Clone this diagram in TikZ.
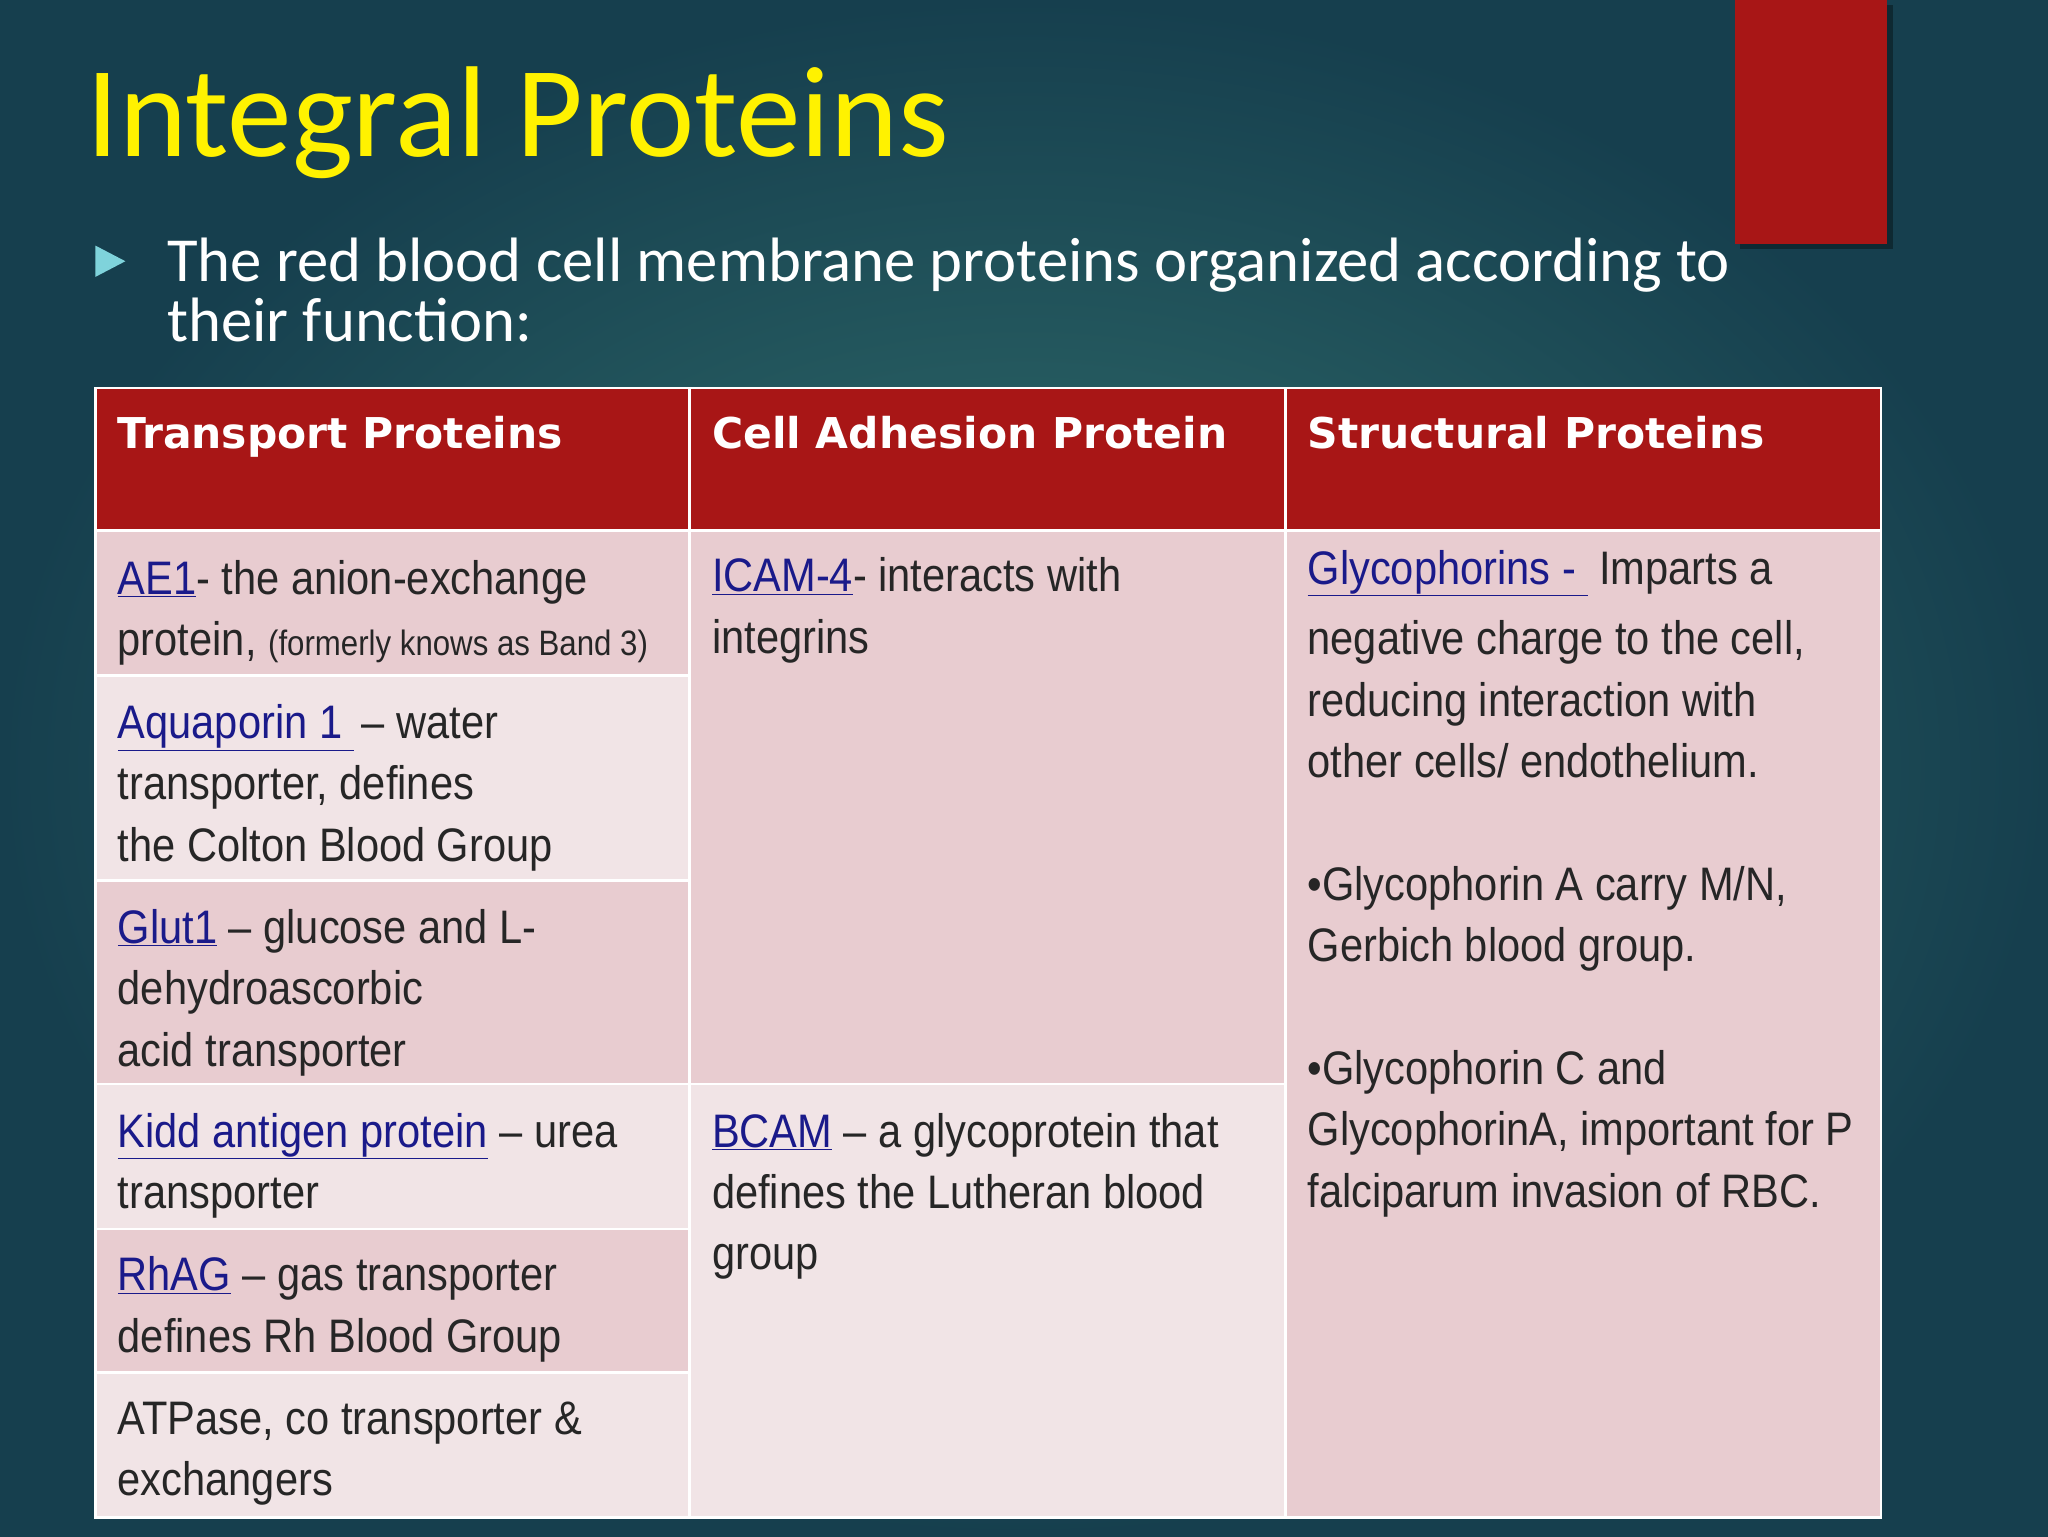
\documentclass[tikz,border=0pt]{standalone}
\usepackage{fontspec}
\setmainfont{Liberation Sans}[FakeStretch=0.885]
\newfontfamily\ttlfont{Carlito}
\newfontfamily\hdfont{DejaVu Sans}
\definecolor{bgdark}{HTML}{163F4E}
\definecolor{bglight}{HTML}{33736F}
\definecolor{hdred}{HTML}{A81616}
\definecolor{cdark}{HTML}{E8CCD0}
\definecolor{clight}{HTML}{F1E4E6}
\definecolor{lnk}{HTML}{1A1A8A}
\definecolor{tri}{HTML}{7FD3DB}
\newcommand{\lk}[1]{\textcolor{lnk}{\underline{#1}}}
\newcommand{\st}{\rule{0pt}{28pt}}
\begin{document}
\begin{tikzpicture}[x=1pt,y=-1pt,
  hd/.style={anchor=base west,text=white,font=\hdfont\bfseries\fontsize{32.5}{36}\selectfont,inner sep=0},
  bd/.style={anchor=north west,align=left,inner sep=0,text=black!85,font=\fontsize{36}{47}\selectfont},
  cell/.style={draw=white,line width=2pt}]
\shade[inner color=bglight,outer color=bgdark] (0,0) rectangle (1568,1176);
\useasboundingbox (0,0) rectangle (1568,1176);
\fill[black,opacity=0.35] (1332,4) rectangle (1449,191);
\fill[hdred] (1328,0) rectangle (1445,187);
\node[anchor=base west,inner sep=0,text=yellow,font=\ttlfont\fontsize{99}{100}\selectfont] (title) at (66,120) {Integral Proteins};
\fill[tri] (73,188) -- (96,200) -- (73,212) -- cycle;
\node[anchor=north west,inner sep=0,align=left,text=white,font=\ttlfont\fontsize{48}{46}\selectfont] (sub) at (128,180) {\rule{0pt}{35pt}The red blood cell membrane proteins organized according to\\their function:};
% header
\fill[hdred] (73,297) rectangle (1440,406);
\draw[cell] (73,297) rectangle (528,406);
\draw[cell] (528,297) rectangle (984,406);
\draw[cell] (984,297) rectangle (1440,406);
\node[hd] (h1) at (90,343) {Transport Proteins};
\node[hd] (h2) at (545,343) {Cell Adhesion Protein};
\node[hd] (h3) at (1001,343) {Structural Proteins};
% cells
\fill[cdark] (73,406) rectangle (528,517);
\fill[clight] (73,517) rectangle (528,674);
\fill[cdark] (73,674) rectangle (528,830);
\fill[clight] (73,830) rectangle (528,941);
\fill[cdark] (73,941) rectangle (528,1051);
\fill[clight] (73,1051) rectangle (528,1162);
\fill[cdark] (528,406) rectangle (984,830);
\fill[clight] (528,830) rectangle (984,1162);
\fill[cdark] (984,406) rectangle (1440,1162);
\foreach \a/\b in {406/517,517/674,674/830,830/941,941/1051,1051/1162}{\draw[cell] (73,\a) rectangle (528,\b);}
\draw[cell] (528,406) rectangle (984,830);
\draw[cell] (528,830) rectangle (984,1162);
\draw[cell] (984,406) rectangle (1440,1162);
\node[bd] (t1) at (90,427) {\st\lk{AE1}- the anion-exchange\\protein, {\fontsize{27}{47}\selectfont(formerly knows as Band 3)}};
\node[bd] (t2) at (90,537) {\st\lk{Aquaporin 1\ }\,– water\\transporter, defines\\the Colton Blood Group};
\node[bd] (t3) at (90,694) {\st\lk{Glut1} – glucose and L-\\dehydroascorbic\\acid transporter};
\node[bd] (t4) at (90,850) {\st\lk{Kidd antigen protein} – urea\\transporter};
\node[bd] (t5) at (90,960) {\st\lk{RhAG} – gas transporter\\defines Rh Blood Group};
\node[bd] (t6) at (90,1070) {\st ATPase, co transporter \&\\exchangers};
\node[bd] (m1) at (545,425) {\st\lk{ICAM-4}- interacts with\\integrins};
\node[bd] (m2) at (545,850) {\st\lk{BCAM} – a glycoprotein that\\defines the Lutheran blood\\group};
\node[bd] (s1) at (1001,419) {\st\lk{Glycophorins - } Imparts a};
\node[bd] (s2) at (1001,473) {\st negative charge to the cell,\\reducing interaction with\\other cells/ endothelium.\\[47pt]•Glycophorin A carry M/N,\\Gerbich blood group.\\[47pt]•Glycophorin C and\\GlycophorinA, important for P\\falciparum invasion of RBC.};
\end{tikzpicture}
\end{document}
